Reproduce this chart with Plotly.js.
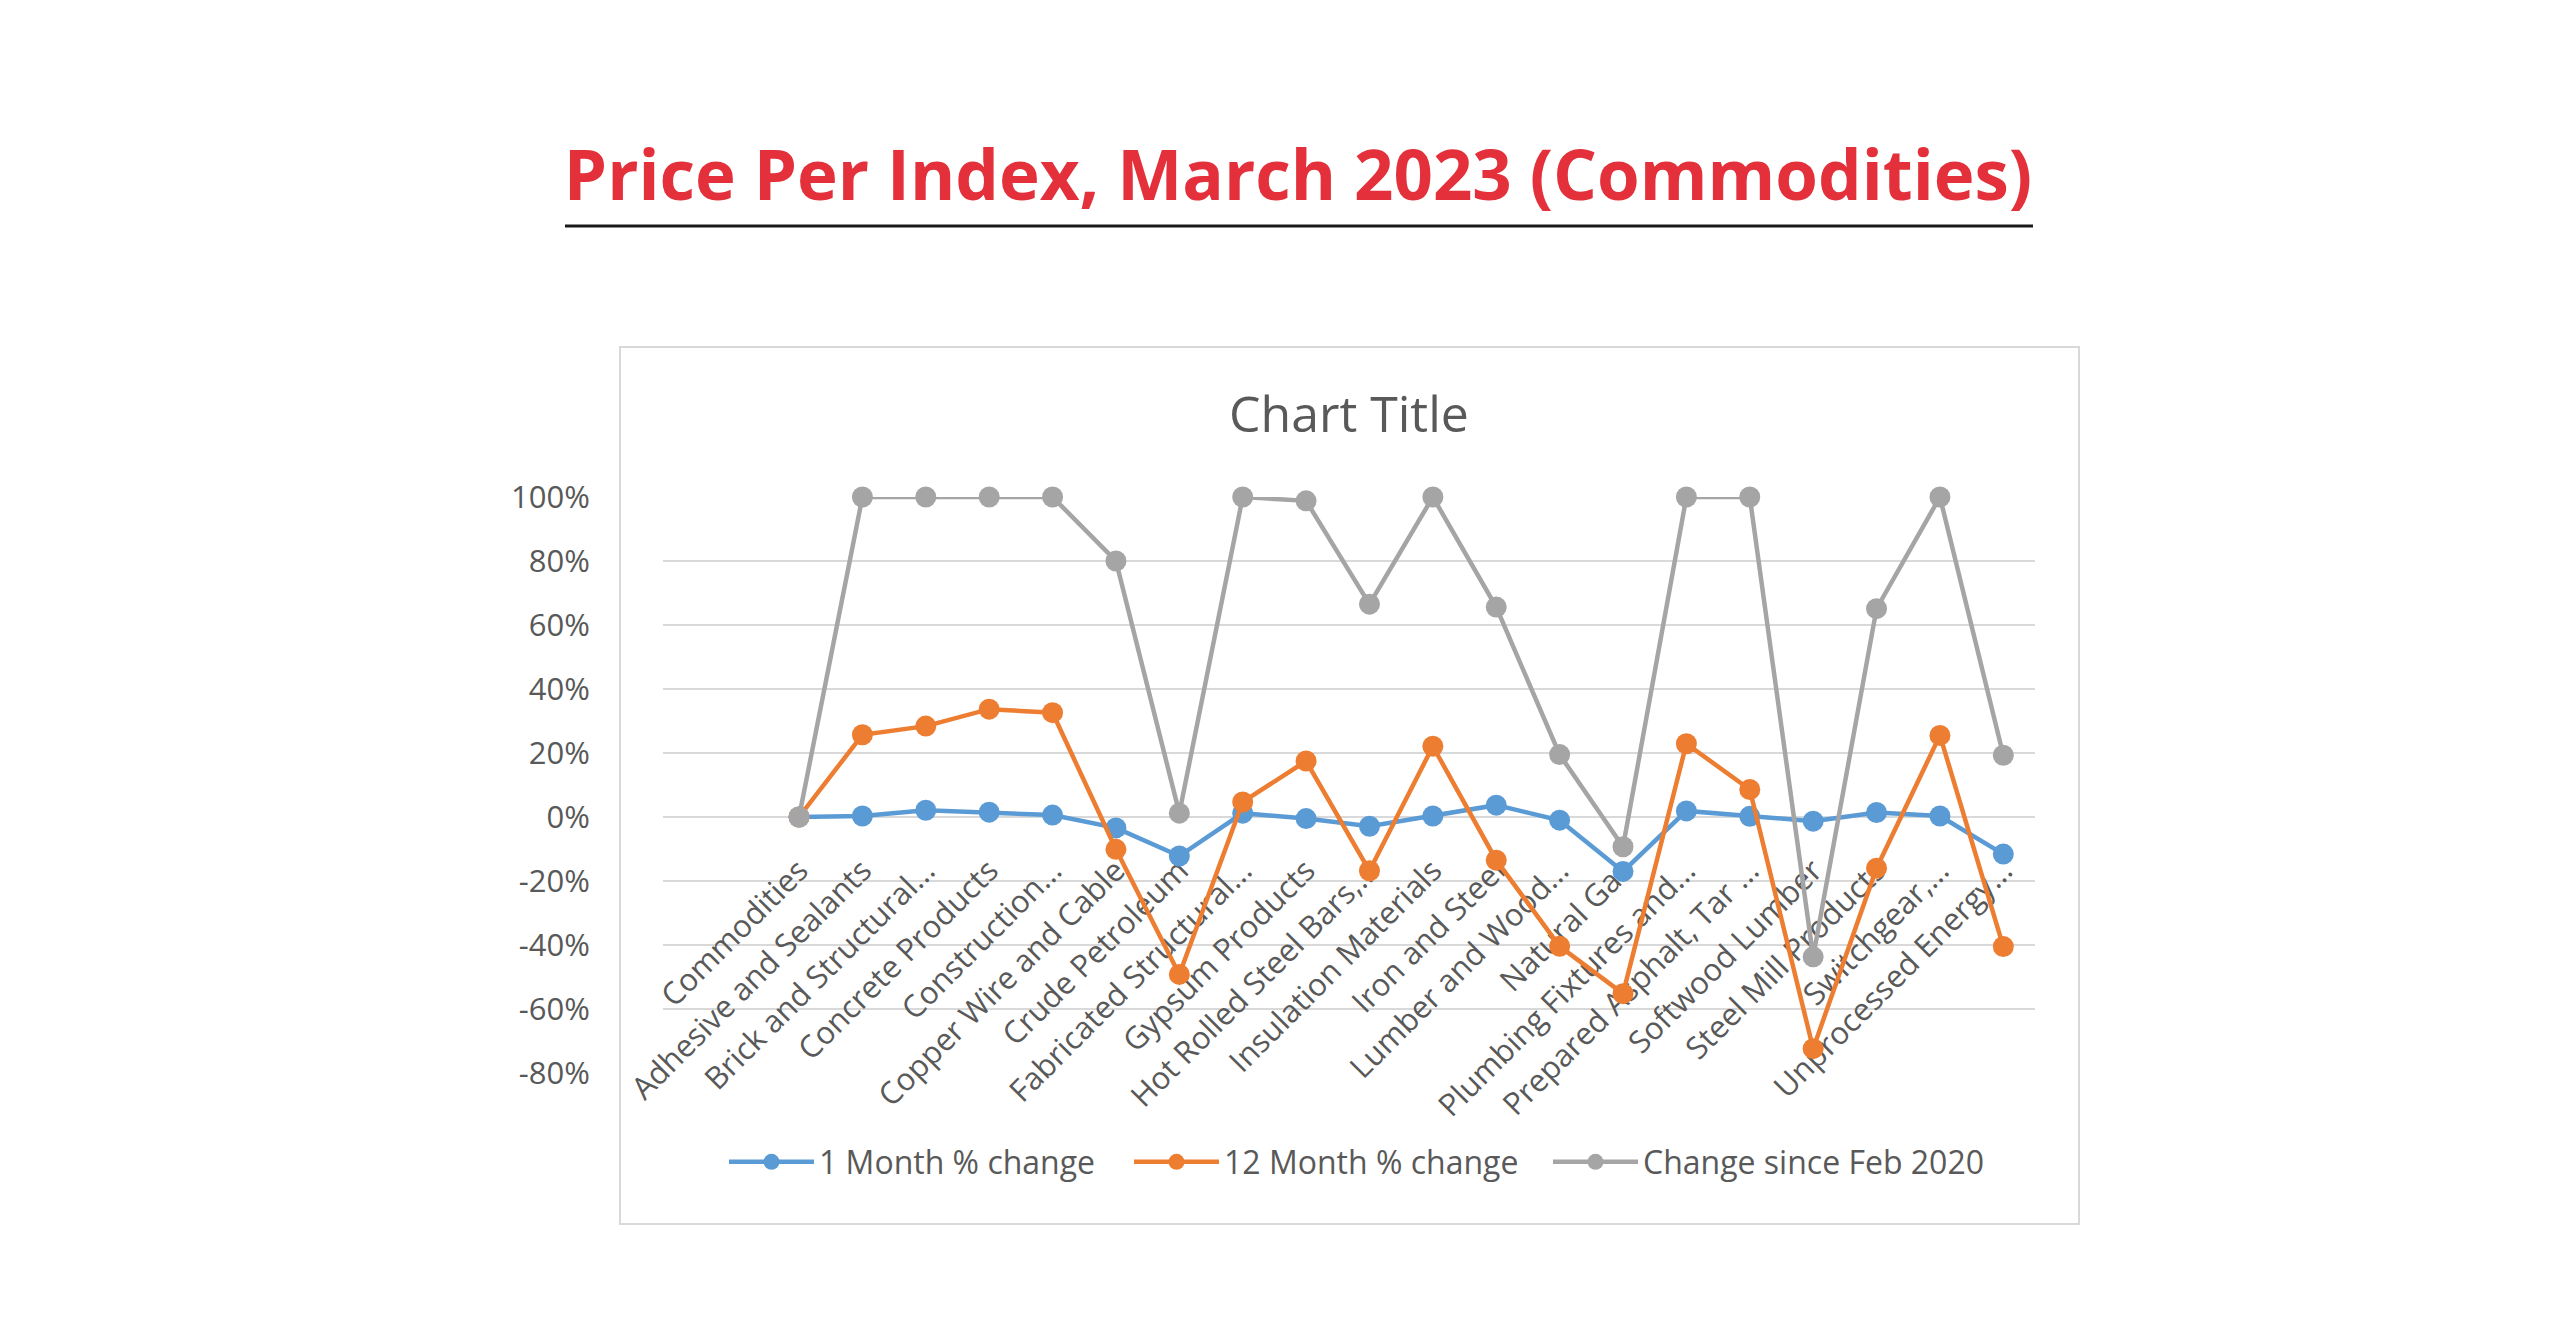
<!DOCTYPE html>
<html>
<head>
<meta charset="utf-8">
<script src="https://cdn.plot.ly/plotly-3.0.1.min.js"></script>
<style>
  html, body { margin: 0; padding: 0; background: #ffffff; }
  #chart { width: 2560px; height: 1344px; }
</style>
</head>
<body>
<div id="chart"></div>
<script>
const categories = [
  "Commodities",
  "Adhesive and Sealants",
  "Brick and Structural...",
  "Concrete Products",
  "Construction...",
  "Copper Wire and Cable",
  "Crude Petroleum",
  "Fabricated Structural...",
  "Gypsum Products",
  "Hot Rolled Steel Bars,...",
  "Insulation Materials",
  "Iron and Steel",
  "Lumber and Wood...",
  "Natural Gas",
  "Plumbing Fixtures and...",
  "Prepared Asphalt, Tar ...",
  "Softwood Lumber",
  "Steel Mill Products",
  "Switchgear,...",
  "Unprocessed Energy..."
];

const oneMonth = [0.000, 0.003, 0.021, 0.015, 0.006, -0.034, -0.122, 0.012, -0.005, -0.029,
                  0.003, 0.037, -0.010, -0.170, 0.019, 0.002, -0.013, 0.014, 0.003, -0.116];

const twelveMonth = [0.000, 0.257, 0.284, 0.337, 0.326, -0.101, -0.492, 0.047, 0.175, -0.168,
                     0.221, -0.135, -0.404, -0.552, 0.229, 0.086, -0.724, -0.160, 0.255, -0.405];

const sinceFeb2020 = [0.000, 1.000, 1.000, 1.000, 1.000, 0.800, 0.012, 1.000, 0.988, 0.665,
                      1.000, 0.656, 0.195, -0.093, 1.000, 1.000, -0.437, 0.651, 1.000, 0.193];

const seriesNames = ["1 Month % change", "12 Month % change", "Change since Feb 2020"];
const seriesColors = ["#5B9BD5", "#ED7D31", "#A5A5A5"];
const legendWidths = [305, 319, 380];

const yTickVals = [-0.8, -0.6, -0.4, -0.2, 0, 0.2, 0.4, 0.6, 0.8, 1.0];
const yTickText = ["-80%", "-60%", "-40%", "-20%", "0%", "20%", "40%", "60%", "80%", "100%"];

const mainTitle = "Price Per Index, March 2023 (Commodities)";
const chartTitle = "Chart Title";

// Layout geometry (pixels)
const W = 2560, H = 1344;
const plotL = 663, plotR = 2035, plotT = 497, plotB = 1073;
const pw = plotR - plotL, ph = plotB - plotT;
const px2x = p => (p - plotL) / pw;
const py2y = p => (plotB - p) / ph;

const yMin = -0.8, yMax = 1.0;

const seriesData = [oneMonth, twelveMonth, sinceFeb2020];
const traces = seriesData.map((vals, i) => ({
  type: "scatter",
  mode: "lines+markers",
  x: categories,
  y: vals,
  name: seriesNames[i],
  legendwidth: legendWidths[i],
  line: { color: seriesColors[i], width: 4.5 },
  marker: { color: seriesColors[i], size: 21, symbol: "circle" },
  cliponaxis: false,
  hoverinfo: "x+y+name"
}));

const tickFont = { family: "Open Sans, sans-serif", size: 31, color: "#595959" };

const layout = {
  width: W,
  height: H,
  paper_bgcolor: "#ffffff",
  plot_bgcolor: "rgba(0,0,0,0)",
  margin: { l: plotL, r: W - plotR, t: plotT, b: H - plotB, pad: 0 },
  showlegend: true,
  title: {
    text: mainTitle,
    font: { family: "Open Sans, sans-serif", size: 69, color: "#E3303B", weight: 700 },
    x: 1298 / W,
    xanchor: "center",
    xref: "container",
    y: 1 - 176 / H,
    yanchor: "middle",
    yref: "container"
  },
  xaxis: {
    type: "category",
    categoryorder: "array",
    categoryarray: categories,
    range: [-(799 - plotL) / 63.37, categories.length - 0.5],
    showgrid: false,
    zeroline: false,
    showline: false,
    ticks: "outside",
    ticklen: 22,
    tickcolor: "rgba(0,0,0,0)",
    tickangle: -45,
    tickfont: tickFont,
    anchor: "free",
    position: (0 - yMin) / (yMax - yMin),
    layer: "below traces",
    fixedrange: true
  },
  yaxis: {
    range: [yMin, yMax],
    tickvals: yTickVals,
    ticktext: yTickText,
    showgrid: true,
    gridcolor: "#D9D9D9",
    gridwidth: 2,
    zeroline: false,
    showline: false,
    ticks: "outside",
    ticklen: 66,
    tickcolor: "rgba(0,0,0,0)",
    tickfont: tickFont,
    layer: "below traces",
    fixedrange: true
  },
  legend: {
    orientation: "h",
    x: px2x(724),
    xanchor: "left",
    y: py2y(1162),
    yanchor: "middle",
    font: { family: "Open Sans, sans-serif", size: 32, color: "#595959" },
    bgcolor: "rgba(0,0,0,0)",
    itemwidth: 85,
    tracegroupgap: 0
  },
  annotations: [
    {
      text: chartTitle,
      xref: "paper", yref: "paper",
      x: px2x(1349), y: py2y(413),
      xanchor: "center", yanchor: "middle",
      showarrow: false,
      font: { family: "Open Sans, sans-serif", size: 50, color: "#595959" }
    }
  ],
  shapes: [
    {
      type: "rect", xref: "paper", yref: "paper", layer: "below",
      x0: px2x(620), x1: px2x(2079), y0: py2y(1224), y1: py2y(347),
      line: { color: "#D9D9D9", width: 2 }, fillcolor: "rgba(0,0,0,0)"
    },
    {
      type: "line", xref: "paper", yref: "paper",
      x0: px2x(565), x1: px2x(2033), y0: py2y(226), y1: py2y(226),
      line: { color: "#1a1a1a", width: 3 }
    }
  ]
};

Plotly.newPlot("chart", traces, layout, { displayModeBar: false, staticPlot: true });
</script>
</body>
</html>
